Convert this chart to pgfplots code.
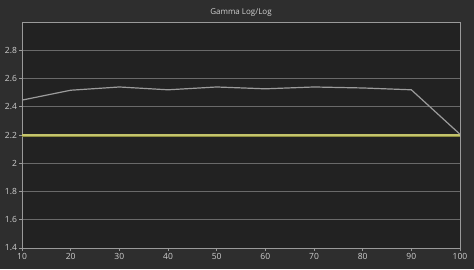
\documentclass[border=0pt]{standalone}
\usepackage{pgfplots}
\pgfplotsset{compat=1.18}
\usepackage{fontspec}
\setmainfont{Open Sans}
\definecolor{outerbg}{HTML}{2E2E2E}
\definecolor{plotbg}{HTML}{222222}
\definecolor{gridc}{HTML}{6A6A6A}
\definecolor{axisc}{HTML}{9A9A9A}
\definecolor{linec}{HTML}{9C9C9C}
\definecolor{yelo}{HTML}{8C8C3E}
\definecolor{yeli}{HTML}{C4C46C}
\definecolor{txt}{HTML}{D0D0D0}
\begin{document}
\begin{tikzpicture}[x=1pt,y=1pt]
\fill[outerbg] (-22,-21) rectangle (452,248);
\begin{axis}[
  at={(0,0)}, anchor=south west,
  scale only axis, width=438pt, height=226pt,
  xmin=10, xmax=100, ymin=1.4, ymax=3.0,
  xtick={10,20,...,100},
  ytick={1.4,1.6,...,2.81},
  yticklabels={1.4,1.6,1.8,2,2.2,2.4,2.6,2.8},
  /pgf/number format/assume math mode=true,
  ymajorgrids,
  grid style={gridc, line width=0.8pt},
  axis background/.style={fill=plotbg},
  axis line style={axisc, line width=0.9pt},
  tick style={axisc, line width=0.8pt},
  major tick length=3pt,
  tick align=outside,
  xtick pos=bottom, ytick pos=left,
  tick label style={font=\fontsize{8.5}{9}\selectfont, text=txt},
  xticklabel style={yshift=1.5pt},
  yticklabel style={xshift=1.5pt},
  title={Gamma Log/Log},
  title style={font=\fontsize{8}{9}\selectfont, text=txt, yshift=-4pt},
  clip=false,
]
\addplot[yelo, line width=3pt] coordinates {(10,2.2) (100,2.2)};
\addplot[yeli, line width=1.2pt] coordinates {(10,2.2) (100,2.2)};
\addplot[linec, line width=1.2pt] coordinates {
(10,2.447) (20,2.517) (30,2.54) (40,2.52) (50,2.54) (60,2.527) (70,2.54) (80,2.533) (90,2.52) (100,2.205)};
\end{axis}
\end{tikzpicture}
\end{document}
